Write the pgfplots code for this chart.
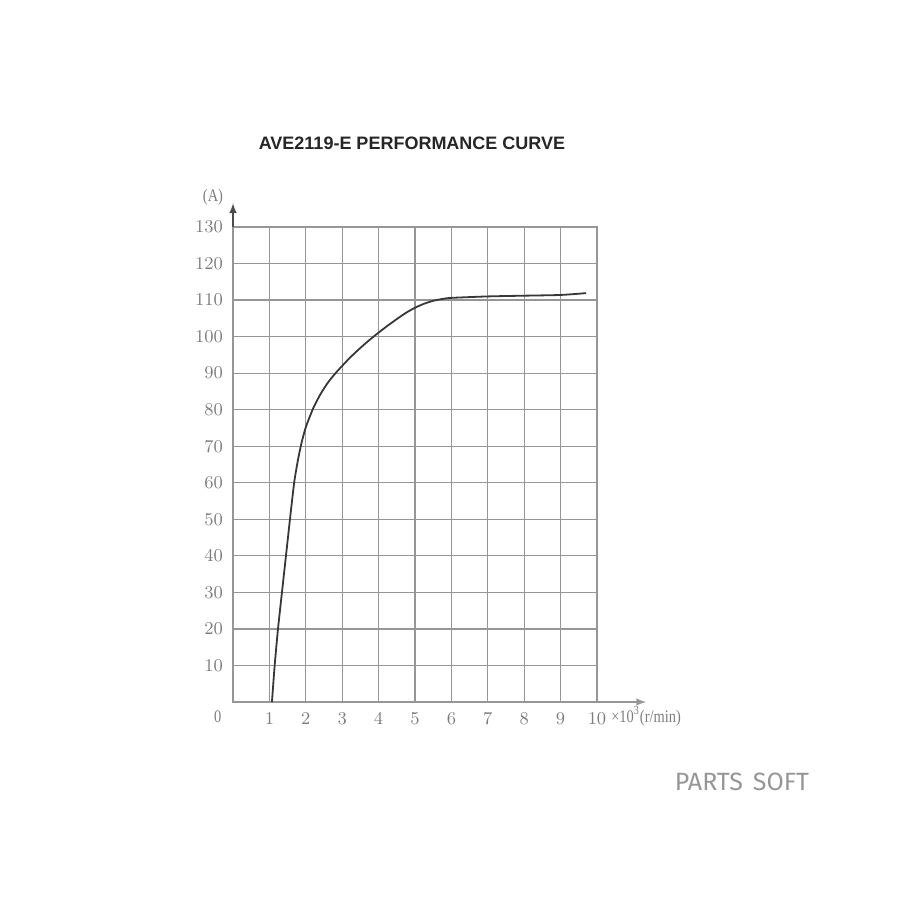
\documentclass[border=0pt]{standalone}
\usepackage{pgfplots}
\pgfplotsset{compat=1.18}
\usepackage{fontspec}
\setmainfont{Liberation Serif}
\newfontfamily\tickfont[FakeStretch=0.82]{Liberation Serif}
\newfontfamily\titlefont{Liberation Sans}
\newfontfamily\wmfont{Fira Sans}
\definecolor{gridc}{RGB}{150,150,150}
\definecolor{labc}{RGB}{125,125,125}
\definecolor{curvec}{RGB}{55,55,55}
\definecolor{wmc}{RGB}{150,150,150}
\begin{document}
\begin{tikzpicture}
\path[use as bounding box] (-116.5pt,-99pt) rectangle (333.5pt,351pt);
\begin{axis}[
  scale only axis,
  width=182pt, height=237.5pt,
  xmin=0, xmax=10, ymin=0, ymax=130,
  xtick={1,2,...,10}, ytick={10,20,...,130},
  grid=major,
  grid style={gridc, line width=0.6pt},
  axis line style={gridc, line width=0.6pt},
  major tick length=0pt,
  tick label style={font=\tickfont\fontsize{8.8}{9}\selectfont, text=labc},
  xticklabel style={yshift=-2pt},
  yticklabel style={xshift=-1.5pt},
  clip=false,
]
\addplot[curvec, line width=0.9pt, smooth, tension=0.4] coordinates {
 (1.07,0) (1.145,10) (1.236,20) (1.345,30) (1.455,40) (1.565,50) (1.68,60)
 (1.78,66) (1.88,70.8) (2.0,75.2) (2.2,80.3) (2.4,84.2) (2.6,87.3) (2.8,89.8)
 (3.0,92.0) (3.2,94.1) (3.4,96.0) (3.6,97.8) (3.8,99.5) (4.0,101.1)
 (4.25,103.0) (4.5,104.8) (4.75,106.5) (5.0,107.9) (5.25,109.0) (5.5,109.8)
 (5.75,110.3) (6.0,110.6) (7.0,111.0) (8.0,111.2) (9.0,111.4) (9.7,111.9)
};
\draw[black!70, line width=0.7pt, -latex] (axis cs:0,130) -- (axis cs:0,136.5);
\draw[gridc, line width=0.7pt, -latex] (axis cs:10,0) -- (axis cs:11.35,0);
\node[font=\tickfont\fontsize{8.8}{9}\selectfont, text=labc] at (axis cs:-0.42,-3.9) {0};
\node[font=\tickfont\fontsize{8.8}{9}\selectfont, text=labc, anchor=west] at (axis cs:10.2,-3.9) {×10\textsuperscript{3}(r/min)};
\node[font=\tickfont\fontsize{8.8}{9}\selectfont, text=labc] at (axis cs:-0.55,138) {(A)};
\end{axis}
\node[font=\titlefont\bfseries\fontsize{9.0}{10}\selectfont, text=black!85] at (89.5pt,279.5pt) {AVE2119-E PERFORMANCE CURVE};
\node[font=\wmfont\fontsize{12.5}{13}\selectfont, text=wmc] at (254.5pt,-40pt) {PARTS\hspace{0.4em}SOFT};
\end{tikzpicture}
\end{document}
